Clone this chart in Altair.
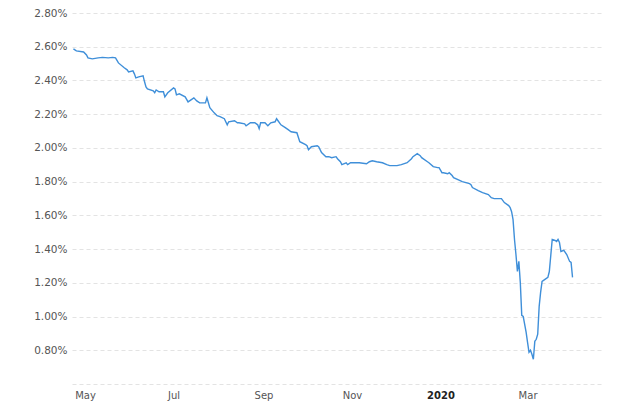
import altair as alt
import pandas as pd

dates = [
    "2019-04-23", "2019-04-25", "2019-04-30", "2019-05-02", "2019-05-03", "2019-05-06",
    "2019-05-10", "2019-05-13", "2019-05-17", "2019-05-20", "2019-05-22", "2019-05-24",
    "2019-05-28", "2019-05-30", "2019-05-31", "2019-06-03", "2019-06-04", "2019-06-05",
    "2019-06-07", "2019-06-10", "2019-06-11", "2019-06-12", "2019-06-13", "2019-06-17",
    "2019-06-18", "2019-06-19", "2019-06-21", "2019-06-24", "2019-06-25", "2019-06-27",
    "2019-07-01", "2019-07-02", "2019-07-03", "2019-07-05", "2019-07-09", "2019-07-11",
    "2019-07-15", "2019-07-17", "2019-07-19", "2019-07-23", "2019-07-24", "2019-07-26",
    "2019-07-29", "2019-07-31", "2019-08-02", "2019-08-05", "2019-08-07", "2019-08-08",
    "2019-08-12", "2019-08-14", "2019-08-15", "2019-08-19", "2019-08-20", "2019-08-23",
    "2019-08-26", "2019-08-28", "2019-08-29", "2019-08-30", "2019-09-02", "2019-09-04",
    "2019-09-06", "2019-09-09", "2019-09-10", "2019-09-11", "2019-09-13", "2019-09-16",
    "2019-09-18", "2019-09-20", "2019-09-24", "2019-09-26", "2019-09-30", "2019-10-01",
    "2019-10-02", "2019-10-04", "2019-10-08", "2019-10-09", "2019-10-11", "2019-10-14",
    "2019-10-16", "2019-10-18", "2019-10-21", "2019-10-22", "2019-10-24", "2019-10-25",
    "2019-10-28", "2019-10-29", "2019-10-31", "2019-11-04", "2019-11-06", "2019-11-11",
    "2019-11-13", "2019-11-15", "2019-11-18", "2019-11-22", "2019-11-25", "2019-11-27",
    "2019-12-02", "2019-12-05", "2019-12-09", "2019-12-12", "2019-12-13", "2019-12-16",
    "2019-12-18", "2019-12-19", "2019-12-23", "2019-12-24", "2019-12-27", "2019-12-30",
    "2019-12-31", "2020-01-02", "2020-01-03", "2020-01-06", "2020-01-07", "2020-01-09",
    "2020-01-10", "2020-01-13", "2020-01-16", "2020-01-21", "2020-01-22", "2020-01-23",
    "2020-01-27", "2020-01-30", "2020-02-03", "2020-02-05", "2020-02-07", "2020-02-10",
    "2020-02-12", "2020-02-14", "2020-02-17", "2020-02-18", "2020-02-19", "2020-02-20",
    "2020-02-21", "2020-02-22", "2020-02-23", "2020-02-24", "2020-02-25", "2020-02-26",
    "2020-02-27", "2020-02-29", "2020-03-01", "2020-03-02", "2020-03-03", "2020-03-04",
    "2020-03-05", "2020-03-06", "2020-03-07", "2020-03-08", "2020-03-09", "2020-03-10",
    "2020-03-11", "2020-03-13", "2020-03-15", "2020-03-16", "2020-03-18", "2020-03-20",
    "2020-03-21", "2020-03-22", "2020-03-23", "2020-03-24", "2020-03-26", "2020-03-28",
    "2020-03-30", "2020-03-31", "2020-04-01",
]

rates = [
    2.587, 2.575, 2.569, 2.551, 2.534, 2.528,
    2.534, 2.537, 2.534, 2.537, 2.534, 2.504,
    2.475, 2.463, 2.451, 2.457, 2.439, 2.415,
    2.421, 2.427, 2.392, 2.362, 2.350, 2.338,
    2.327, 2.344, 2.333, 2.333, 2.303, 2.327,
    2.356, 2.350, 2.315, 2.321, 2.303, 2.273,
    2.297, 2.279, 2.267, 2.267, 2.297, 2.238,
    2.208, 2.191, 2.185, 2.173, 2.137, 2.155,
    2.161, 2.149, 2.149, 2.143, 2.131, 2.149,
    2.149, 2.137, 2.114, 2.149, 2.149, 2.131,
    2.149, 2.155, 2.173, 2.161, 2.137, 2.120,
    2.108, 2.096, 2.090, 2.037, 2.019, 2.013,
    1.989, 2.007, 2.013, 2.007, 1.972, 1.948,
    1.948, 1.942, 1.948, 1.936, 1.918, 1.901,
    1.912, 1.901, 1.912, 1.912, 1.912, 1.906,
    1.918, 1.924, 1.918, 1.912, 1.901, 1.895,
    1.895, 1.901, 1.912, 1.936, 1.948, 1.966,
    1.954, 1.942, 1.918, 1.912, 1.889, 1.883,
    1.883, 1.853, 1.853, 1.847, 1.853, 1.836,
    1.824, 1.812, 1.800, 1.788, 1.782, 1.765,
    1.747, 1.735, 1.723, 1.705, 1.699, 1.699,
    1.699, 1.676, 1.658, 1.646, 1.622, 1.575,
    1.457, 1.368, 1.267, 1.327, 1.202, 1.007,
    1.001, 0.907, 0.847, 0.788, 0.800, 0.776,
    0.747, 0.853, 0.865, 0.895, 1.060, 1.143,
    1.208, 1.220, 1.232, 1.267, 1.457, 1.451,
    1.445, 1.457, 1.439, 1.386, 1.392, 1.368,
    1.327, 1.321, 1.232,
]

y_ticks = [0.6, 0.8, 1.0, 1.2, 1.4, 1.6, 1.8, 2.0, 2.2, 2.4, 2.6, 2.8]
x_ticks = [(2019, 5), (2019, 7), (2019, 9), (2019, 11), (2020, 1), (2020, 3)]

df = pd.DataFrame({"date": pd.to_datetime(dates), "rate": rates})

x_axis = alt.Axis(
    values=[alt.DateTime(year=y, month=m, date=1) for y, m in x_ticks],
    labelExpr="month(datum.value) == 0 ? timeFormat(datum.value, '%Y') : timeFormat(datum.value, '%b')",
    labelFontWeight={"condition": {"test": "month(datum.value) == 0", "value": "bold"}, "value": "normal"},
    labelColor={"condition": {"test": "month(datum.value) == 0", "value": "#222222"}, "value": "#555555"},
    labelFont="DejaVu Sans",
    labelFontSize=10,
    labelPadding=6,
    ticks=False,
    domain=False,
    grid=False,
    title=None,
)

y_axis = alt.Axis(
    values=y_ticks,
    labelExpr="datum.value < 0.7 ? '' : format(datum.value, '.2f') + '%'",
    labelFont="DejaVu Sans",
    labelFontSize=10.5,
    labelColor="#555555",
    labelPadding=5,
    ticks=False,
    domain=False,
    grid=True,
    gridColor="#e3e3e3",
    gridDash=[4, 3],
    gridWidth=1,
    title=None,
)

chart = (
    alt.Chart(df)
    .mark_line(color="#3f8fd9", strokeWidth=1.4, interpolate="linear")
    .encode(
        x=alt.X(
            "date:T",
            scale=alt.Scale(
                domain=[alt.DateTime(year=2019, month=4, date=22), alt.DateTime(year=2020, month=4, date=22)],
                nice=False,
            ),
            axis=x_axis,
        ),
        y=alt.Y("rate:Q", scale=alt.Scale(domain=[0.6, 2.8], nice=False, zero=False), axis=y_axis),
    )
    .properties(
        width=531,
        height=371,
        background="white",
        autosize=alt.AutoSizeParams(type="none"),
        padding={"left": 64, "top": 5, "right": 29, "bottom": 18},
    )
    .configure_view(strokeWidth=0, stroke="transparent")
)

chart.save("out.html", embed_options={"renderer": "svg", "actions": False})
